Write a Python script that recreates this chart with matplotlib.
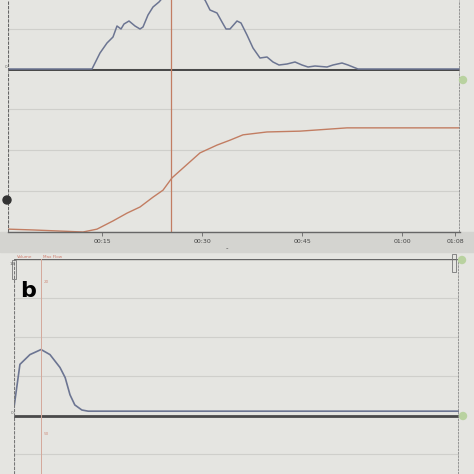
import numpy as np
import matplotlib.pyplot as plt
from matplotlib.patches import Rectangle, Circle

# top screen: flow (ml/s) and voided volume (ml) against time (s)
flow_t = [1, 13.5, 14.7, 15.75, 16.65, 17.25, 17.85, 18.3, 19.05, 19.95, 20.7, 21.15, 21.9,
          22.65, 23.55, 24.45, 25.9, 27.45, 28.95, 30.45, 31.2, 32.25, 33.0, 33.6, 34.2,
          35.25, 35.85, 36.75, 37.65, 38.7, 39.75, 40.65, 41.55, 42.75, 43.95, 45.0, 45.9,
          46.95, 48.75, 49.65, 51.0, 51.9, 53.4, 68.7]
flow_v = [0, 0, 4.0, 6.5, 8.0, 10.75, 10.0, 11.25, 12.0, 10.75, 10.0, 10.5, 13.5,
          15.5, 16.75, 18.5, 20.0, 20.5, 19.0, 17.25, 14.75, 14.0, 11.75, 10.0, 10.0,
          12.0, 11.5, 8.5, 5.25, 2.75, 3.0, 1.75, 1.0, 1.25, 1.75, 1.0, 0.5,
          0.75, 0.5, 1.0, 1.5, 1.0, 0, 0]
vol_t = [0.9, 4.65, 12.15, 14.25, 16.65, 18.75, 20.7, 22.65, 24.15, 25.5, 27.15, 29.7,
         32.25, 34.2, 36.15, 39.75, 44.7, 51.75, 68.7]
vol_v = [7, 5, 0, 7, 27, 46, 61, 85, 102, 132, 156, 193, 212, 224, 237, 244, 246, 254, 254]
cursor_t = 25.35
tick_t = [15, 30, 45, 60, 68]
tick_lbl = ["00:15", "00:30", "00:45", "01:00", "01:08"]

# bottom screen (b): flow only
b_t = [0, 0.8, 2.15, 3.65, 4.85, 6.2, 6.9, 7.55, 8.2, 9.15, 10, 60]
b_v = [2, 13, 15.5, 16.8, 15.5, 12.2, 9.6, 5.2, 2.6, 1.3, 1.0, 1.0]
b_maxflow_t = 3.65

bg = "#e5e5e1"
grid_c = "#cfcfcb"
flow_c = "#6c7592"
vol_c = "#c27d62"

W = 474.0
fig = plt.figure(figsize=(4.74, 4.74), dpi=100, facecolor=bg)

def box(l, t, r, b):
    return [l / W, 1 - b / W, (r - l) / W, (b - t) / W]

def clean(ax):
    ax.set_facecolor("none")
    for s in ax.spines.values():
        s.set_visible(False)
    ax.set_yticks([])
    ax.set_xticks([])

# strip behind the time scale
fig.patches.append(Rectangle((0, 1 - 252 / W), 1, 20 / W, transform=fig.transFigure,
                             color="#d4d4d0", zorder=-5))

ax1 = fig.add_axes(box(8, 0, 460, 71))
clean(ax1)
ax1.set_xlim(0.9, 68.7)
ax1.set_ylim(-0.5, 17.25)
ax1.axhline(10, color=grid_c, lw=0.8)
ax1.axhline(-0.35, color="#4a4a4a", lw=2.2)
ax1.plot(flow_t, flow_v, color=flow_c, lw=1.1)
ax1.axvline(cursor_t, color=vol_c, lw=0.9)

ax2 = fig.add_axes(box(8, 71, 460, 232))
clean(ax2)
ax2.set_xlim(0.9, 68.7)
ax2.set_ylim(0, 392.7)
for g in [100, 200, 300]:
    ax2.axhline(g, color=grid_c, lw=0.8)
ax2.plot(vol_t, vol_v, color=vol_c, lw=1.0)
ax2.axvline(cursor_t, color=vol_c, lw=0.9)
ax2.spines["bottom"].set_visible(True)
ax2.spines["bottom"].set_color("#666666")
ax2.spines["bottom"].set_linewidth(1.0)
ax2.set_xticks(tick_t)
ax2.set_xticklabels(tick_lbl, fontsize=4.5, color="#444444")
ax2.tick_params(axis="x", length=3, width=0.6, color="#666666", pad=2)

for ax in (ax1, ax2):
    ax.axvline(0.95, color="#666666", lw=0.8, ls=(0, (3, 1)))
    ax.axvline(68.6, color="#888888", lw=0.6, ls=(0, (3, 1)))

ax3 = fig.add_axes(box(14, 259, 459, 474))
clean(ax3)
ax3.set_xlim(0, 60)
ax3.set_ylim(-15.1, 40)
for g in [10, 20, 30, -10]:
    ax3.axhline(g, color=grid_c, lw=0.8)
ax3.axhline(40, color="#666666", lw=1.0)
ax3.axhline(-0.3, color="#4a4a4a", lw=2.0)
ax3.plot(b_t, b_v, color=flow_c, lw=1.2)
ax3.axvline(b_maxflow_t, color="#d4a89a", lw=0.7)
ax3.axvline(0.05, color="#777777", lw=0.8, ls=(0, (3, 1)))
ax3.axvline(59.9, color="#888888", lw=0.6, ls=(0, (3, 1)))

# screen decorations
fig.text(17 / W, 1 - 257 / W, "Volume", fontsize=3, color="#d07a6a", va="center")
fig.text(43 / W, 1 - 257 / W, "Max Flow", fontsize=3, color="#d07a6a", va="center")
fig.text(44 / W, 1 - 282 / W, "20", fontsize=3, color="#d09080", va="center")
fig.text(44 / W, 1 - 434 / W, "50", fontsize=3, color="#d09080", va="center")
fig.text(10 / W, 1 - 264 / W, "10", fontsize=3, color="#666666", va="center")
fig.text(11 / W, 1 - 413 / W, "0", fontsize=3, color="#666666", va="center")
fig.text(5 / W, 1 - 67 / W, "0", fontsize=3, color="#666666", va="center")
fig.text(226 / W, 1 - 248 / W, "-", fontsize=5, color="#555555", va="center")
fig.text(20 / W, 1 - 291 / W, "b", fontsize=16, fontweight="bold", color="black", va="center")
for (x, y0, y1) in [(12, 260, 279), (452, 254, 272)]:
    fig.patches.append(Rectangle((x / W, 1 - y1 / W), 4 / W, (y1 - y0) / W,
                                 transform=fig.transFigure, fill=False, ec="#777777", lw=0.6))
for (x, y) in [(463, 80), (462, 260), (463, 416)]:
    fig.patches.append(Circle((x / W, 1 - y / W), 3.5 / W, transform=fig.transFigure,
                              color="#b9d2a0"))
fig.patches.append(Circle((7 / W, 1 - 200 / W), 4 / W, transform=fig.transFigure,
                          color="#333333"))

plt.savefig("out.png", dpi=100, facecolor=bg)
